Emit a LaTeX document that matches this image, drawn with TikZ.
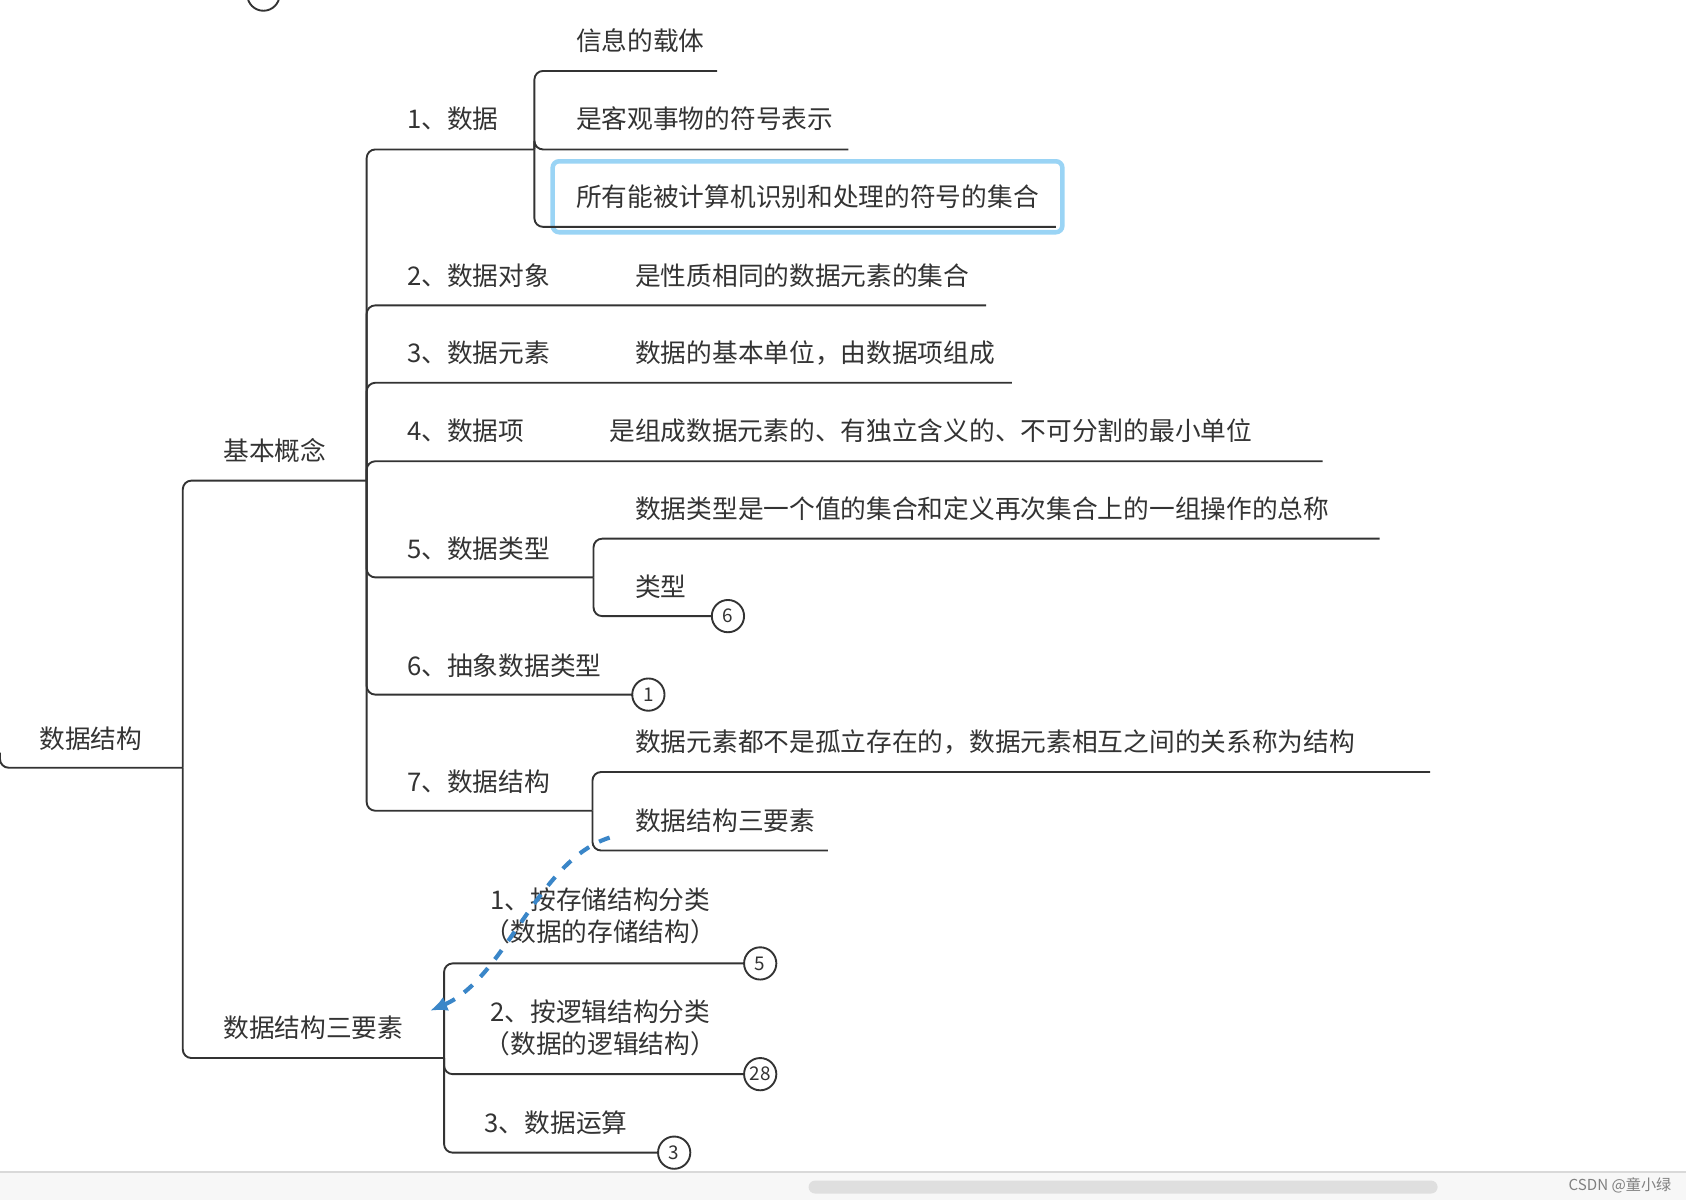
\documentclass[tikz,border=0pt]{standalone}
\usepackage{fontspec}
\setmainfont{Noto Sans CJK SC}
\usetikzlibrary{arrows.meta}
\definecolor{ink}{HTML}{333333}
\definecolor{hl}{HTML}{9AD4F5}
\definecolor{arr}{HTML}{3A86C8}
\tikzset{
  topic/.style={anchor=west,inner sep=0pt,text=ink,font=\fontsize{6.8}{8.5}\selectfont},
  line/.style={draw=ink,line width=0.5pt,rounded corners=0.08cm},
  count/.style={circle,draw=ink,line width=0.5pt,fill=white,minimum size=0.3cm,inner sep=0pt,text=ink,font=\fontsize{5}{6}\selectfont}
}
% spine x, parent y, child y, end x
\newcommand{\branch}[4]{\draw[line] (#1,#2) -- (#1,#3) -- (#4,#3);}
\begin{document}
\begin{tikzpicture}[x=0.01cm,y=-0.01cm]
\useasboundingbox (0,0) rectangle (1568,1116);
% bottom bar
\fill[gray!6] (0,1090) rectangle (1568,1116);
\draw[gray!30,line width=0.4pt] (0,1090) -- (1568,1090);
\fill[gray!25,rounded corners=0.06cm] (752,1098) rectangle (1337,1110);
\node[anchor=east,inner sep=0pt,text=gray,font=\fontsize{4}{5}\selectfont] (csdn) at (1555,1102) {CSDN @童小绿};
\node[count] (cut) at (245,-5) {};

% highlight
\draw[hl,line width=1.2pt,rounded corners=0.06cm] (514,150) rectangle (988,216);

% root
\node[topic] (root) at (36,687) {数据结构};
\draw[line] (0,700) -- (0,714) -- (170,714);
\branch{170}{714}{447}{341}
\branch{170}{714}{984}{413}
\node[topic] (basic) at (207,419) {基本概念};
\node[topic] (three) at (207,956) {数据结构三要素};

% basic concepts
\branch{341}{447}{139}{497}
\branch{341}{447}{284}{917}
\branch{341}{447}{356}{941}
\branch{341}{447}{429}{1230}
\branch{341}{447}{537}{552}
\branch{341}{447}{646}{588}
\branch{341}{447}{754}{551}
\node[topic] (d1) at (378,110) {1、数据};
\node[topic] (d2) at (378,256) {2、数据对象};
\node[topic] (d3) at (378,328) {3、数据元素};
\node[topic] (d4) at (378,401) {4、数据项};
\node[topic] (d5) at (378,510) {5、数据类型};
\node[topic] (d6) at (378,619) {6、抽象数据类型};
\node[topic] (d7) at (378,727) {7、数据结构};
\node[topic] (d2a) at (590,256) {是性质相同的数据元素的集合};
\node[topic] (d3a) at (590,328) {数据的基本单位，由数据项组成};
\node[topic] (d4a) at (566,401) {是组成数据元素的、有独立含义的、不可分割的最小单位};
\node[count] (n6) at (603,646) {1};
\draw[line] (588,646) -- (n6);

% data
\branch{497}{139}{66}{667}
\branch{497}{139}{139}{789}
\branch{497}{139}{211}{982}
\node[topic] (d1a) at (535,38) {信息的载体};
\node[topic] (d1b) at (535,110) {是客观事物的符号表示};
\node[topic] (d1c) at (535,183) {所有能被计算机识别和处理的符号的集合};

% data type
\branch{552}{537}{501}{1283}
\branch{552}{537}{573}{663}
\node[topic] (d5a) at (590,473) {数据类型是一个值的集合和定义再次集合上的一组操作的总称};
\node[topic] (d5b) at (590,546) {类型};
\node[count] (n5) at (677,573) {6};

% data structure
\branch{551}{754}{718}{1330}
\branch{551}{754}{791}{770}
\node[topic] (d7a) at (590,690) {数据元素都不是孤立存在的，数据元素相互之间的关系称为结构};
\node[topic] (d7b) at (590,763) {数据结构三要素};

% three elements
\branch{413}{984}{896}{692}
\branch{413}{984}{999}{692}
\branch{413}{984}{1072}{612}
\node[topic,align=center] (t1) at (450,852) {1、按存储结构分类\\（数据的存储结构）};
\node[topic,align=center] (t2) at (450,956) {2、按逻辑结构分类\\（数据的逻辑结构）};
\node[topic] (t3) at (450,1044) {3、数据运算};
\node[count] (c1) at (707,896) {5};
\node[count] (c2) at (707,999) {28};
\node[count] (c3) at (627,1072) {3};

% relation
\coordinate (rs) at (567,779);
\coordinate (re) at (400,940);
\draw[arr,line width=1.1pt,dashed,-{Latex[length=0.16cm,width=0.14cm]}] (rs) .. controls (500,800) and (470,910) .. (re);
\end{tikzpicture}
\end{document}
